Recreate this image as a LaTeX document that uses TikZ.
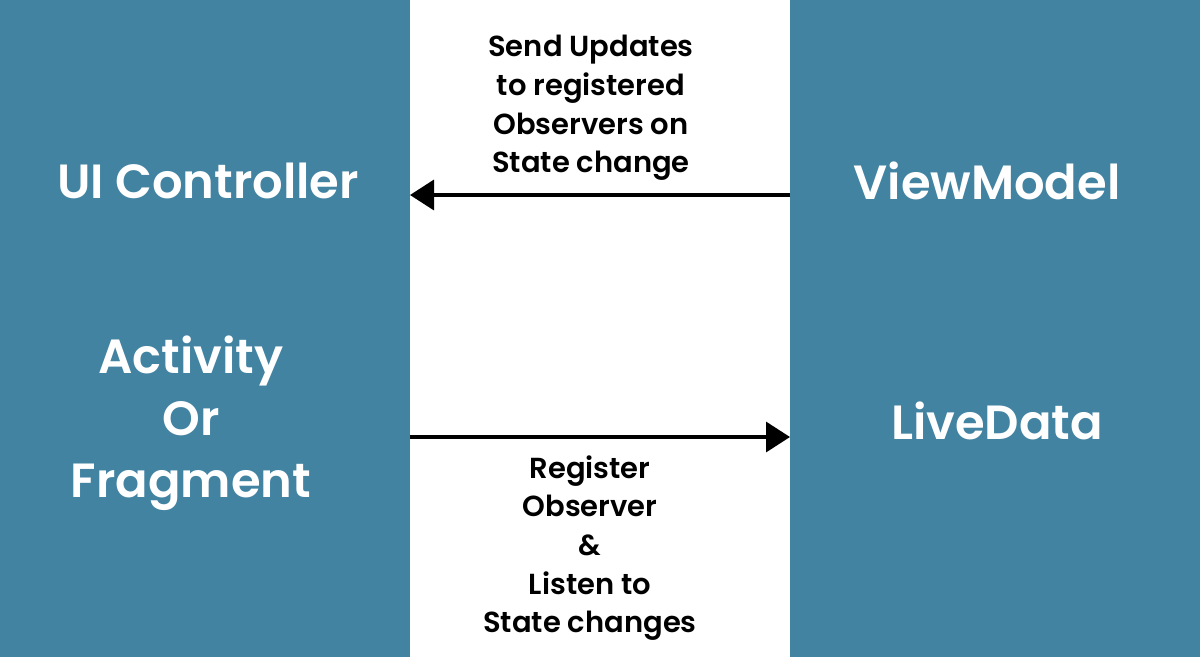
\documentclass[tikz,border=0pt]{standalone}
\usepackage{fontspec}
\setmainfont{Poppins}[UprightFont=* SemiBold]
\usetikzlibrary{arrows.meta}
\definecolor{panel}{HTML}{4283A2}
\tikzset{
  panelbox/.style={fill=panel, draw=none},
  bigtxt/.style={text=white, font=\fontsize{48}{62}\selectfont, align=center, inner sep=0pt},
  midtxt/.style={text=black, font=\fontsize{29}{38.7}\selectfont, align=center, inner sep=0pt},
  conn/.style={line width=3.5pt, -{Triangle[length=24pt,width=30pt]}}
}
\begin{document}
\begin{tikzpicture}[x=1pt,y=-1pt]
\useasboundingbox (0,0) rectangle (1200,657);
\fill[white] (0,0) rectangle (1200,657);
\path[panelbox] (0,0) rectangle (410,657);
\path[panelbox] (790,0) rectangle (1200,657);
\coordinate (lefte1) at (410,195);
\coordinate (righte1) at (790,195);
\coordinate (lefte2) at (410,437);
\coordinate (righte2) at (790,437);
\node[bigtxt] (ui) at (208,181) {UI Controller};
\node[bigtxt] (vm) at (987,181) {ViewModel};
\node[bigtxt] (act) at (191,423) {Activity\\Or\\Fragment};
\node[bigtxt] (ld) at (997,421) {LiveData};
\node[midtxt] (top) at (591,108) {Send Updates\\to registered\\Observers on\\State change};
\node[midtxt] (bot) at (590,548) {Register\\Observer\\\&\\Listen to\\State changes};
\draw[conn] (righte1) -- (lefte1);
\draw[conn] (lefte2) -- (righte2);
\end{tikzpicture}
\end{document}
